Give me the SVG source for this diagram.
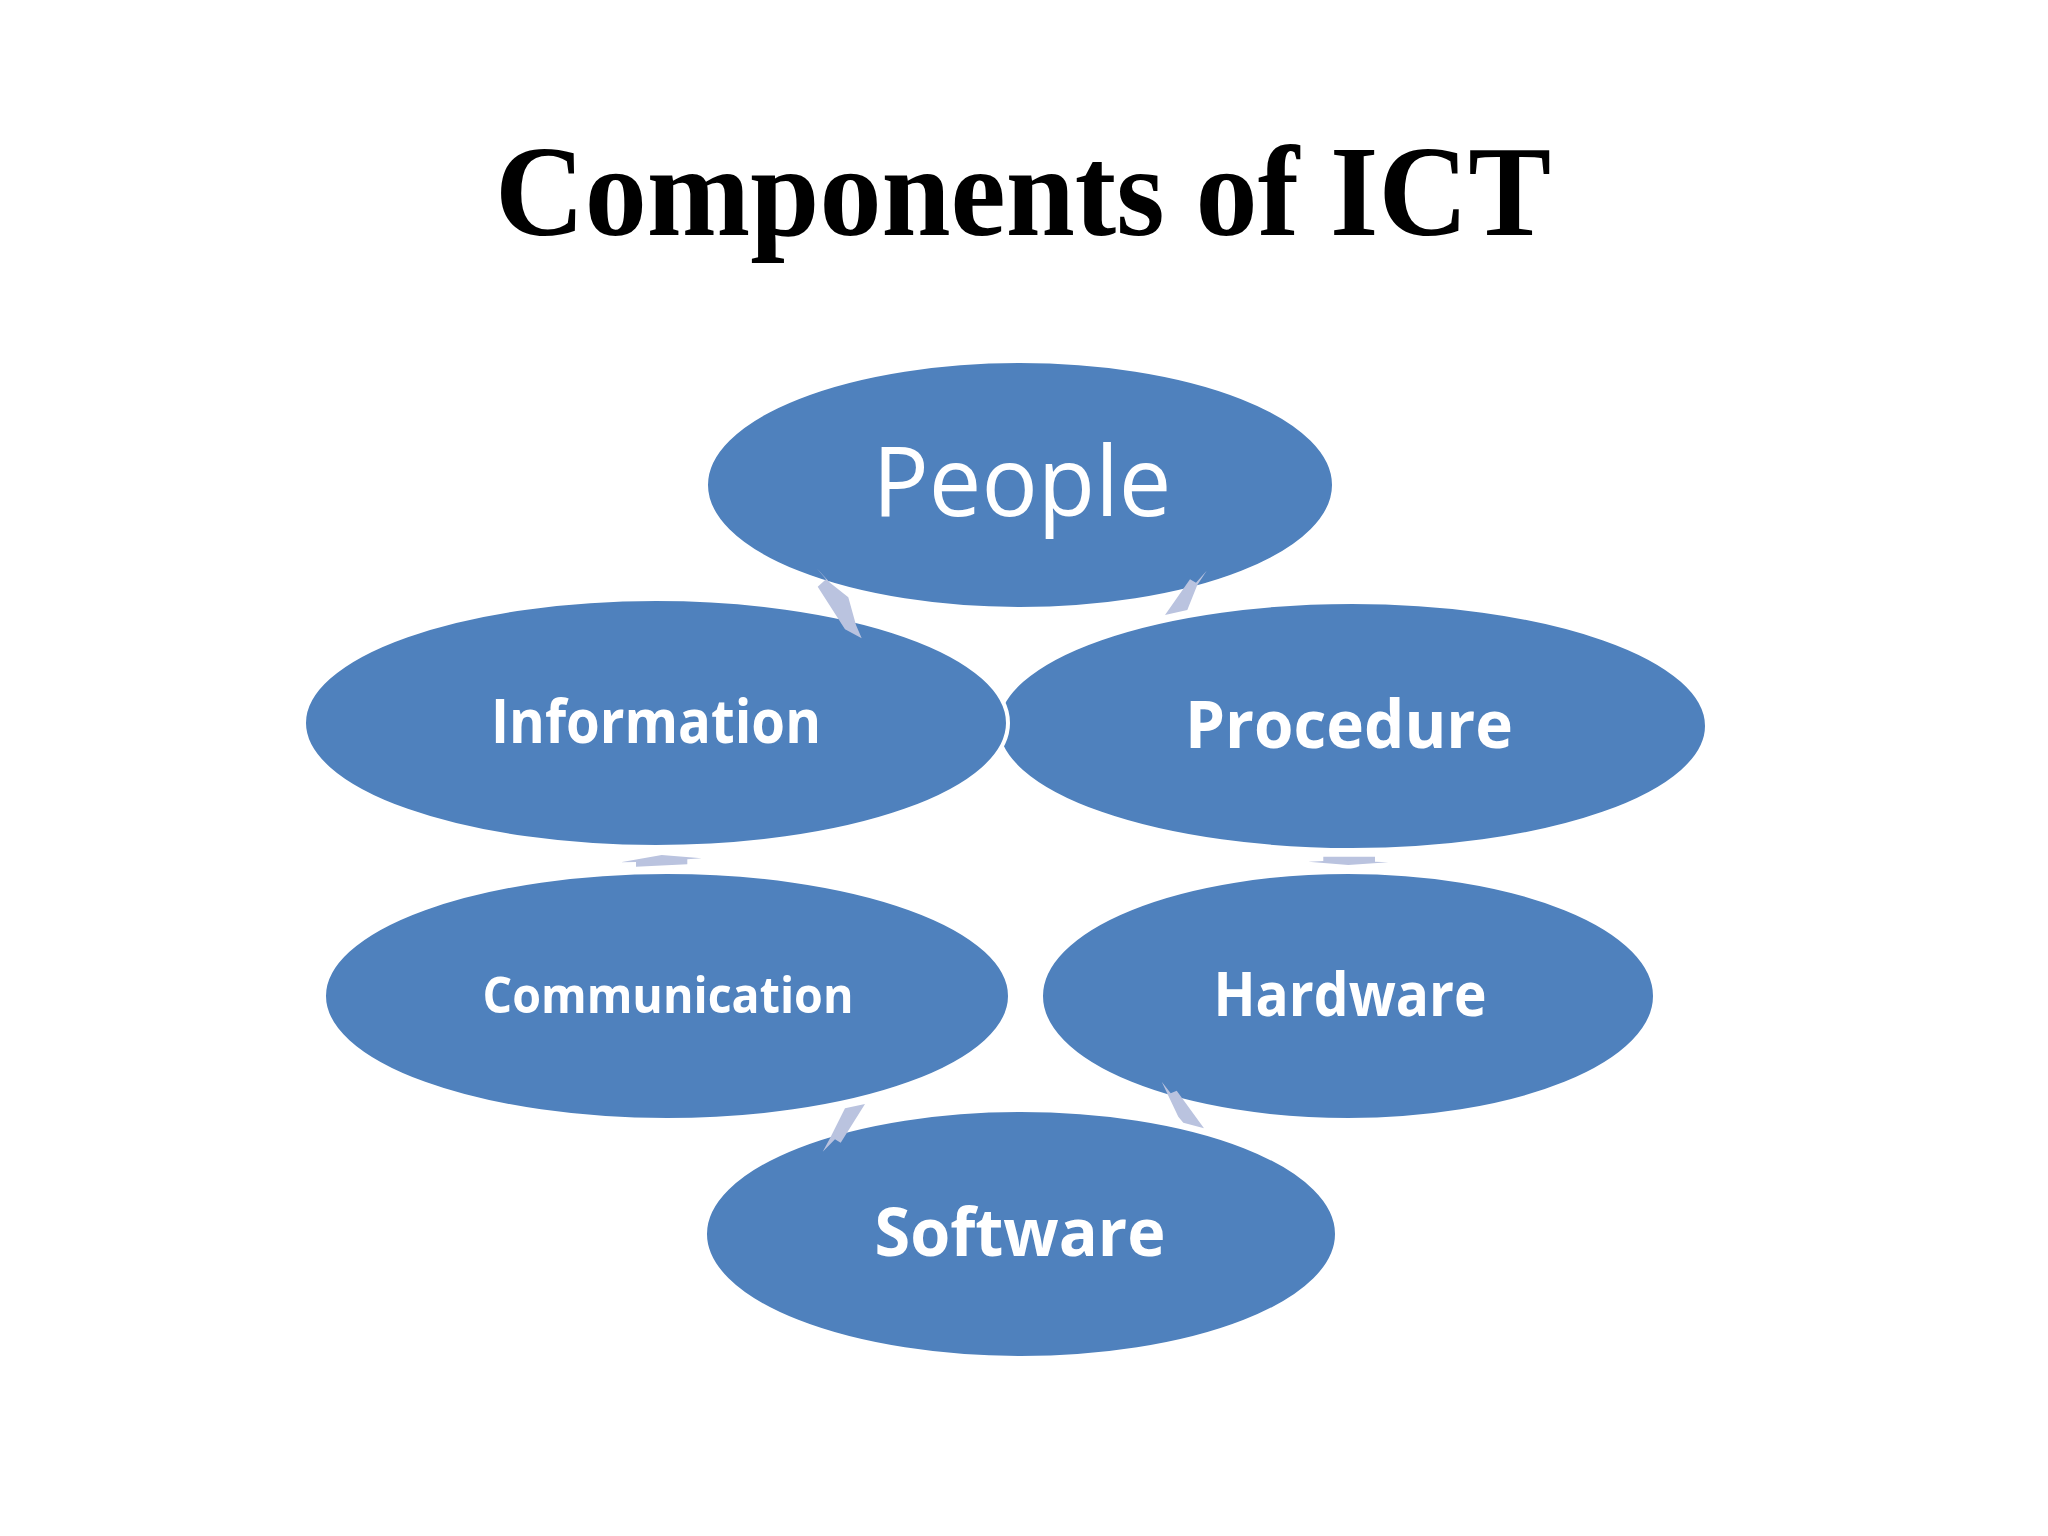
<svg xmlns="http://www.w3.org/2000/svg" width="2048" height="1536" viewBox="0 0 2048 1536">
<style>
.node{fill:#4F81BD;stroke:#FFFFFF;stroke-width:4}
.lbl{fill:#FFFFFF;font-family:"Open Sans","Noto Sans","Liberation Sans",sans-serif;text-anchor:middle}
.b{font-weight:bold}
.arr{fill:#BAC3DF;stroke:none}
.title{font-family:"Liberation Serif","Times New Roman",serif;font-weight:bold;font-size:129px;fill:#000000}
</style>
<rect x="0" y="0" width="2048" height="1536" fill="#FFFFFF"/>
<text class="title" x="495" y="235" textLength="1056" lengthAdjust="spacingAndGlyphs">Components of ICT</text>
<g id="people">
<ellipse class="node" cx="1020" cy="485" rx="314" ry="124"/>
<text class="lbl" x="1022" y="516" font-size="97" textLength="299" lengthAdjust="spacingAndGlyphs">People</text>
</g>
<g id="procedure">
<ellipse class="node" cx="1352" cy="726" rx="355" ry="124"/>
<text class="lbl b" x="1349" y="748" font-size="67" textLength="328" lengthAdjust="spacingAndGlyphs">Procedure</text>
</g>
<g id="information">
<ellipse class="node" cx="656" cy="723" rx="352" ry="124"/>
<text class="lbl b" x="656" y="743" font-size="60" textLength="330" lengthAdjust="spacingAndGlyphs">Information</text>
</g>
<g id="communication">
<ellipse class="node" cx="667" cy="996" rx="343" ry="124"/>
<text class="lbl b" x="668" y="1013" font-size="51" textLength="371" lengthAdjust="spacingAndGlyphs">Communication</text>
</g>
<g id="hardware">
<ellipse class="node" cx="1348" cy="996" rx="307" ry="124"/>
<text class="lbl b" x="1350" y="1016" font-size="61" textLength="273" lengthAdjust="spacingAndGlyphs">Hardware</text>
</g>
<g id="software">
<ellipse class="node" cx="1021" cy="1234" rx="316" ry="124"/>
<text class="lbl b" x="1020" y="1256" font-size="66" textLength="291" lengthAdjust="spacingAndGlyphs">Software</text>
</g>
<g id="connectors">
<polygon class="arr" points="816.7,568.3 830,582.7 848.3,597.3 856,625 861.7,638.3 845,629.3 817.7,586.7 826,579.3"/>
<polygon class="arr" points="1206.7,570.7 1197.3,585 1187.3,610 1165,615 1190,579.3 1196,582.7"/>
<polygon class="arr" points="620.7,862.3 661.7,855 701.7,858.3 687.3,859.3 687.3,864.3 636,866.7 636,862"/>
<polygon class="arr" points="1323.3,856.7 1375,856.7 1375,861.7 1388.3,862.3 1348.3,865 1308.3,861.7 1323.3,861"/>
<polygon class="arr" points="865,1104 845,1108.3 830,1138.3 822.7,1151.7 835,1139.3 840.7,1142.7"/>
<polygon class="arr" points="1161.7,1081.7 1170.7,1093.3 1176.7,1090.7 1204,1128.3 1183.3,1122.7 1178.3,1116.7"/>
</g>
</svg>
